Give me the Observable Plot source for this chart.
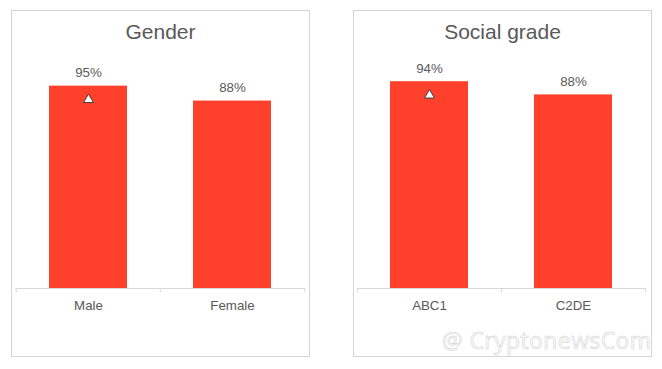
<!DOCTYPE html>
<html>
<head>
<meta charset="utf-8">
<script src="https://cdn.jsdelivr.net/npm/d3@7"></script>
<script src="https://cdn.jsdelivr.net/npm/@observablehq/plot@0.6"></script>
<style>
  html, body { margin: 0; padding: 0; background: #fff; }
  #page { position: relative; width: 662px; height: 369px; overflow: hidden; font-family: "Liberation Sans", Arial, sans-serif; }
  .frame { position: absolute; border: 1px solid #d4d4d4; box-sizing: border-box; }
  .title { position: absolute; text-align: center; font-size: 21px; line-height: 21px; color: #595959; }
  .chart { position: absolute; top: 0; }
  .watermark { position: absolute; font-family: "Open Sans", "Liberation Sans", sans-serif; font-size: 23px; line-height: 23px; color: rgba(255,255,255,0.85); -webkit-text-stroke: 0.6px #d2d2d2; letter-spacing: 0.4px; }
</style>
</head>
<body>
<div id="page">
  <div class="frame" style="left:11px;top:10px;width:299px;height:347px"></div>
  <div class="frame" style="left:353px;top:10px;width:299px;height:347px"></div>
  <div class="title" id="t1" style="left:11px;top:21px;width:299px"></div>
  <div class="title" id="t2" style="left:353px;top:21px;width:299px"></div>
  <div class="chart" id="c1" style="left:0px"></div>
  <div class="chart" id="c2" style="left:331px"></div>
  <div class="watermark" style="left:442px;top:329px">@ CryptonewsCom</div>
</div>
<script>
const titles = ["Gender", "Social grade"];
const genderCategories = ["Male", "Female"];
const genderValues = [95, 88];
const genderFlags = [true, false];
const gradeCategories = ["ABC1", "C2DE"];
const gradeValues = [94, 88];
const gradeFlags = [true, false];

const BAR = "#FF402B";
const TEXT = "#595959";
const AXIS = "#d9d9d9";

function panel(cats, values, flags, m) {
  const data = cats.map((c, i) => ({cat: c, value: values[i], flag: flags[i]}));
  const W = 331, H = 369;
  const step = (W - m.left - m.right) / cats.length;
  return Plot.plot({
    width: W, height: H,
    marginLeft: m.left, marginRight: m.right, marginTop: m.top, marginBottom: 81,
    style: {fontFamily: '"Liberation Sans", Arial, sans-serif', color: TEXT, background: "transparent", overflow: "visible"},
    x: {domain: cats, paddingInner: 0.46, paddingOuter: 0.23},
    y: {domain: [0, 100], axis: null},
    marks: [
      Plot.barY(data, {x: "cat", y: "value", fill: BAR}),
      Plot.ruleY([0], {stroke: AXIS, strokeWidth: 1}),
      Plot.ruleX(cats, {x: d => d, dx: -step / 2, y1: 0, y2: -2, stroke: AXIS}),
      Plot.ruleX(cats.slice(-1), {x: d => d, dx: step / 2, y1: 0, y2: -2, stroke: AXIS}),
      Plot.axisX({tickSize: 0, tickPadding: 12, fontSize: 13.3, fill: TEXT, label: null}),
      Plot.text(data, {x: "cat", y: "value", text: d => d.value + "%", dy: -13, fontSize: 13.3, fill: TEXT}),
      Plot.dot(data.filter(d => d.flag), {x: "cat", y: "value", dy: 13.5, symbol: "triangle", r: 3.7, fill: "white", stroke: "#404040", strokeWidth: 1})
    ]
  });
}

document.getElementById("t1").textContent = titles[0];
document.getElementById("t2").textContent = titles[1];
document.getElementById("c1").appendChild(panel(genderCategories, genderValues, genderFlags, {left: 15, right: 27, top: 75}));
document.getElementById("c2").appendChild(panel(gradeCategories, gradeValues, gradeFlags, {left: 26, right: 17, top: 68}));
</script>
</body>
</html>
